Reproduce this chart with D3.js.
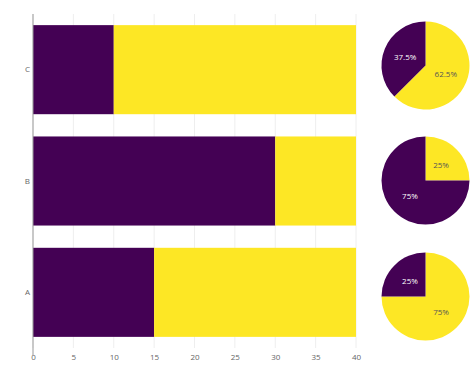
<!DOCTYPE html>
<html>
<head>
<meta charset="utf-8">
<script src="https://cdn.jsdelivr.net/npm/d3@7"></script>
<style>
  body { margin: 0; background: #fff; }
  text { font-family: "Open Sans", sans-serif; }
</style>
</head>
<body>
<script>
// bar data
var categories = ['A', 'B', 'C'];
var firstPart = [15, 30, 10];
var secondPart = [25, 10, 30];
var xTicks = [0, 5, 10, 15, 20, 25, 30, 35, 40];

// pie data, top to bottom, values in percent
var pieYellow = [62.5, 25, 75];
var piePurple = [37.5, 75, 25];

var purple = '#440154';
var yellow = '#fde725';

const w = 474;
const h = 370;

const svg = d3.select('body').append('svg').attr('width', w).attr('height', h);

const xScale = d3.scaleLinear().domain([0, 40]).range([33, 356]);
const yScale = d3.scaleBand().domain(categories.slice().reverse()).range([14, 348])
  .paddingInner(0.2).paddingOuter(0.1);

// grid
svg.append('g').selectAll('line').data(xTicks).enter().append('line')
  .attr('x1', d => xScale(d)).attr('x2', d => xScale(d))
  .attr('y1', 14).attr('y2', 348)
  .attr('stroke', '#eee').attr('stroke-width', 1);

const rows = categories.map((c, i) => ({cat: c, a: firstPart[i], b: secondPart[i]}));

svg.append('g').selectAll('rect').data(rows).enter().append('rect')
  .attr('x', xScale(0)).attr('y', d => yScale(d.cat))
  .attr('width', d => xScale(d.a) - xScale(0)).attr('height', yScale.bandwidth())
  .attr('fill', purple);

svg.append('g').selectAll('rect').data(rows).enter().append('rect')
  .attr('x', d => xScale(d.a)).attr('y', d => yScale(d.cat))
  .attr('width', d => xScale(d.a + d.b) - xScale(d.a)).attr('height', yScale.bandwidth())
  .attr('fill', yellow);

// axes
const xAxis = d3.axisBottom(xScale).tickValues(xTicks).tickSize(0).tickPadding(6);
const gx = svg.append('g').attr('transform', 'translate(0,348)').call(xAxis);
gx.select('.domain').remove();
gx.selectAll('text').attr('fill', '#666').style('font-size', '8px');

const yAxis = d3.axisLeft(yScale).tickSize(0).tickPadding(3);
const gy = svg.append('g').attr('transform', 'translate(33,0)').call(yAxis);
gy.select('.domain').attr('stroke', '#999').attr('d', 'M0,14V355');
gy.selectAll('text').attr('fill', '#666').style('font-size', '8px');

// pies
const pieCenters = [65.5, 180.5, 296.5];
const r = 44;
const pie = d3.pie().sort(null).value(d => d.v);
const arc = d3.arc().innerRadius(0).outerRadius(r);

pieCenters.forEach((cy, i) => {
  const slices = pie([
    {v: pieYellow[i], color: yellow, text: '#555'},
    {v: piePurple[i], color: purple, text: '#fff'}
  ]);
  const g = svg.append('g').attr('transform', 'translate(425.5,' + cy + ')');
  g.selectAll('path').data(slices).enter().append('path')
    .attr('d', arc).attr('fill', d => d.data.color);
  g.selectAll('text').data(slices).enter().append('text')
    .attr('transform', d => 'translate(' + arc.centroid(d) + ')')
    .attr('text-anchor', 'middle').attr('dy', '0.35em')
    .attr('fill', d => d.data.text).style('font-size', '8px')
    .text(d => d.data.v + '%');
});
</script>
</body>
</html>
